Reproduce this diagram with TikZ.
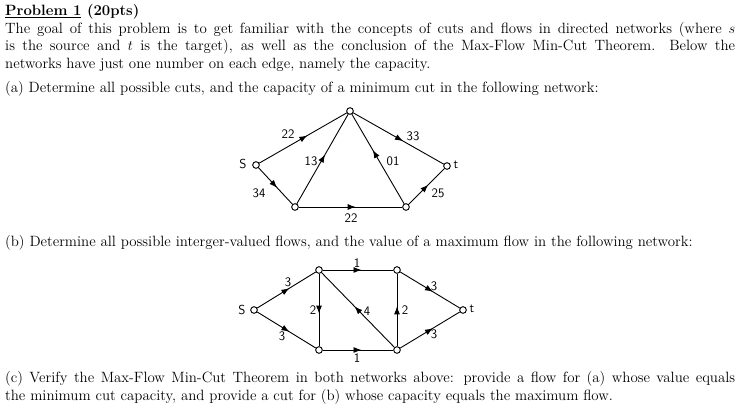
\documentclass[tikz,border=0pt]{standalone}
\usetikzlibrary{decorations.markings,arrows.meta}
\begin{document}
\begin{tikzpicture}[x=1pt,y=-1pt,
 txt/.style={anchor=west,inner sep=0pt,font=\fontsize{14.9}{17}\selectfont},
 vtx/.style={circle,draw,line width=0.8pt,fill=white,inner sep=0pt,minimum size=6.5pt},
 lab/.style={font=\sffamily\fontsize{13}{14}\selectfont,inner sep=1pt},
 me/.style={line width=0.9pt,postaction={decorate},decoration={markings,mark=at position #1 with {\arrow{Latex[length=8pt,width=6pt]}}}},
 me/.default=0.55]
\useasboundingbox (0,0) rectangle (739,414);
\node[txt] (l0) at (5,12) {\textbf{\underline{Problem 1} (20pts)}};
\node[txt] (l1) at (5,30) {\makebox[730pt][s]{The goal of this problem is to get familiar with the concepts of cuts and flows in directed networks (where $s$}};
\node[txt] (l2) at (5,47) {\makebox[730pt][s]{is the source and $t$ is the target), as well as the conclusion of the Max-Flow Min-Cut Theorem. Below the}};
\node[txt] (l3) at (5,65) {networks have just one number on each edge, namely the capacity.};
\node[txt] (l4) at (5,89) {(a) Determine all possible cuts, and the capacity of a minimum cut in the following network:};
\node[txt] (l5) at (5,243) {(b) Determine all possible interger-valued flows, and the value of a maximum flow in the following network:};
\node[txt] (l6) at (5,379) {\makebox[730pt][s]{(c) Verify the Max-Flow Min-Cut Theorem in both networks above: provide a flow for (a) whose value equals}};
\node[txt] (l7) at (5,397) {the minimum cut capacity, and provide a cut for (b) whose capacity equals the maximum flow.};
% network a
\node[vtx] (s) at (256,165) {};
\node[vtx] (top) at (350,111) {};
\node[vtx] (bl) at (295,207) {};
\node[vtx] (br) at (406,207) {};
\node[vtx] (t) at (447,166) {};
\draw[me] (s) -- (top);
\draw[me] (s) -- (bl);
\draw[me] (bl) -- (top);
\draw[me=0.6] (br) -- (top);
\draw[me] (top) -- (t);
\draw[me] (bl) -- (br);
\draw[me] (br) -- (t);
\foreach \n in {s,top,bl,br,t} \node[vtx] at (\n) {};
\node[lab] (ls) at (243,164) {S};
\node[lab] (lt) at (456,165) {t};
\node[lab] (a1) at (288,134) {22};
\node[lab] (a2) at (259,193) {34};
\node[lab] (a3) at (311,161) {13};
\node[lab] (a4) at (393,161) {01};
\node[lab] (a5) at (413,136) {33};
\node[lab] (a6) at (438,193) {25};
\node[lab] (a7) at (351,218) {22};
% network b
\node[vtx] (bs) at (254,310) {};
\node[vtx] (A) at (319,270) {};
\node[vtx] (B) at (397,270) {};
\node[vtx] (C) at (319,350) {};
\node[vtx] (D) at (397,350) {};
\node[vtx] (bt) at (463,310) {};
\draw[me] (bs) -- (A);
\draw[me] (bs) -- (C);
\draw[me] (A) -- (B);
\draw[me] (C) -- (D);
\draw[me] (A) -- (C);
\draw[me] (D) -- (A);
\draw[me] (D) -- (B);
\draw[me] (B) -- (bt);
\draw[me] (D) -- (bt);
\foreach \n in {bs,A,B,C,D,bt} \node[vtx] at (\n) {};
\node[lab] (lbs) at (242,310) {S};
\node[lab] (lbt) at (472,309) {t};
\node[lab] (b1) at (288,282) {3};
\node[lab] (b2) at (282,336) {3};
\node[lab] (b3) at (357,263) {1};
\node[lab] (b4) at (357,358) {1};
\node[lab] (b5) at (313,310) {2};
\node[lab] (b6) at (367,311) {4};
\node[lab] (b7) at (405,310) {2};
\node[lab] (b8) at (434,286) {3};
\node[lab] (b9) at (434,334) {3};
\end{tikzpicture}
\end{document}
